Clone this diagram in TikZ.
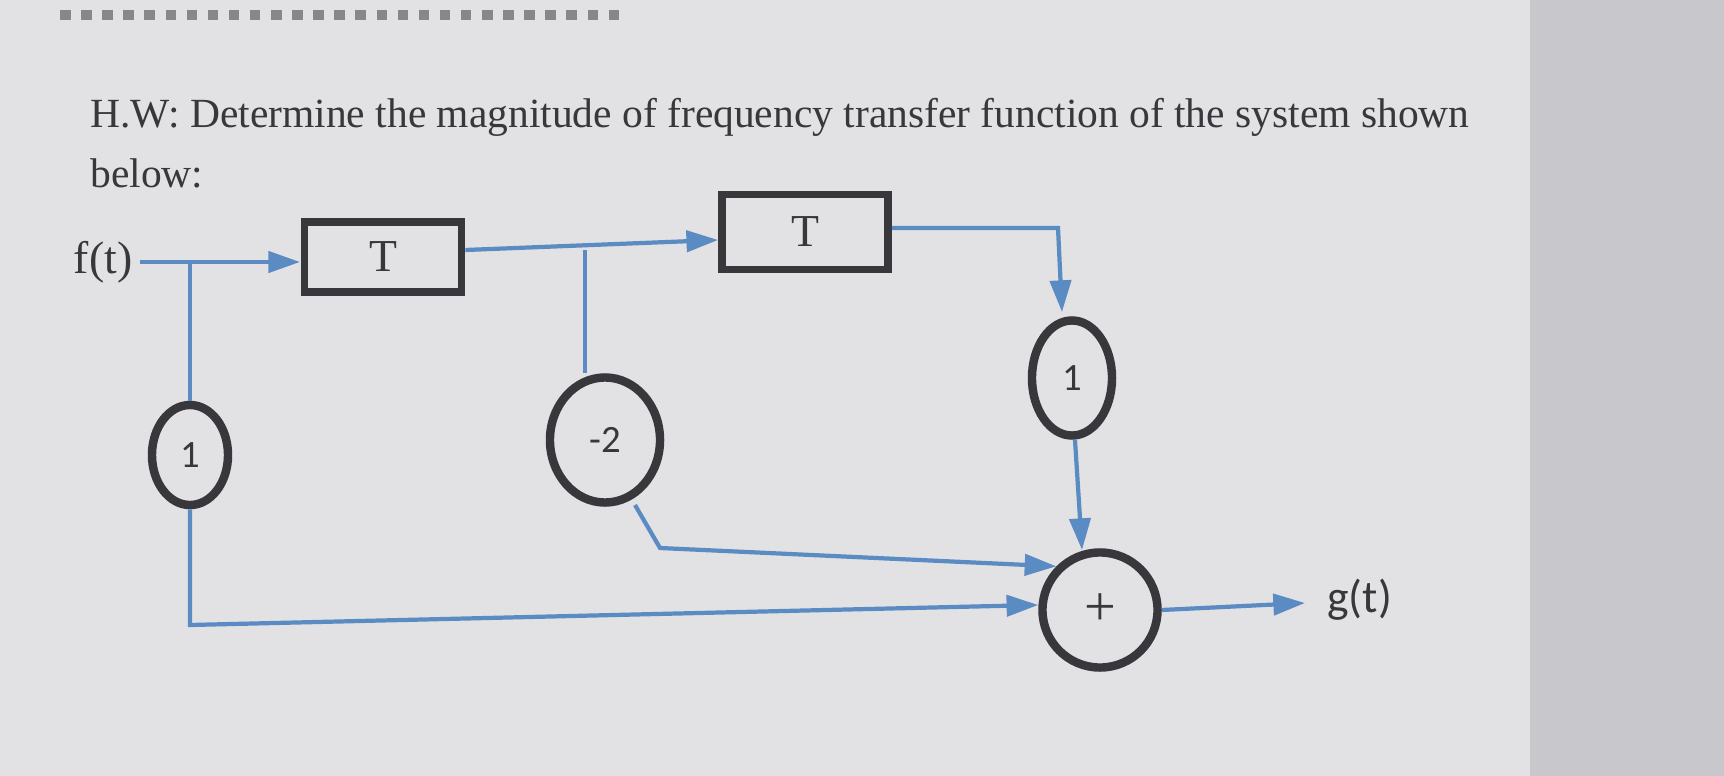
\documentclass[tikz,border=0pt]{standalone}
\usepackage{fontspec}
\setmainfont{Liberation Serif}
\newfontfamily\carlitofont{Carlito}
\usetikzlibrary{arrows.meta,shapes.geometric}
\definecolor{paper}{RGB}{226,226,228}
\definecolor{edge}{RGB}{200,200,204}
\definecolor{wire}{RGB}{90,140,195}
\definecolor{ink}{RGB}{55,55,60}
\tikzset{
  wirec/.style={draw=wire,line width=1.2pt,-{Triangle[length=9pt,width=6pt]}},
  wiren/.style={draw=wire,line width=1.2pt},
  delaybox/.style={draw=ink,line width=2.2pt,font=\fontsize{13}{13}\selectfont,text=ink},
  gain/.style={draw=ink,line width=2.4pt,ellipse,inner sep=0pt,font=\carlitofont\fontsize{11}{11}\selectfont,text=ink},
}
\begin{document}
\begin{tikzpicture}[x=0.01cm,y=-0.01cm]
\useasboundingbox (0,0) rectangle (1724,776);
\fill[paper] (0,0) rectangle (1724,776);
\fill[edge] (1530,0) rectangle (1724,776);
\draw[ink!60,line width=3pt,dashed] (60,15) -- (620,15);
\node[anchor=base west,font=\fontsize{11.8}{11.8}\selectfont,text=ink] (title) at (78,128) {H.W: Determine the magnitude of frequency transfer function of the system shown};
\node[anchor=base west,font=\fontsize{11.8}{11.8}\selectfont,text=ink] (below) at (78,188) {below:};
\node[anchor=east,font=\fontsize{13}{13}\selectfont,text=ink,inner sep=2pt] (f) at (140,262) {f(t)};
\node[delaybox,minimum width=1.57cm,minimum height=0.7cm] (T1) at (383,257) {T};
\node[delaybox,minimum width=1.66cm,minimum height=0.75cm] (T2) at (805,232) {T};
\node[gain,minimum width=0.76cm,minimum height=1.0cm] (g1) at (190,455) {1};
\node[gain,minimum width=1.1cm,minimum height=1.25cm] (g2) at (605,440) {-2};
\node[gain,minimum width=0.8cm,minimum height=1.15cm] (g3) at (1072,378) {1};
\node[gain,minimum width=1.15cm,minimum height=1.15cm,font=\fontsize{16}{16}\selectfont] (sum) at (1100,610) {+};
\node[anchor=west,font=\carlitofont\fontsize{13}{13}\selectfont,text=ink] (g) at (1315,600) {g(t)};
\coordinate (a) at (190,262);
\coordinate (b) at (585,250);
\coordinate (c) at (1058,228);
\coordinate (d) at (635,505);
\coordinate (e) at (660,548);
\coordinate (h) at (190,625);
\draw[wirec] (f.east) -- (300,262);
\draw[wirec] (T1.east |- 0,250) -- (T2.west |- 0,240);
\draw[wiren] (a) -- (g1.north);
\draw[wirec] (g1.south) -- (h) -- (sum.west |- 0,605);
\draw[wiren] (b) -- (g2.north -| b);
\draw[wirec] (d) -- (e) -- (sum.north west);
\draw[wirec] (T2.east |- 0,228) -- (c) -- (1062,312);
\draw[wirec] (1075,440) -- (1082,550);
\draw[wirec] (sum.east) -- (1305,603);
\end{tikzpicture}
\end{document}
